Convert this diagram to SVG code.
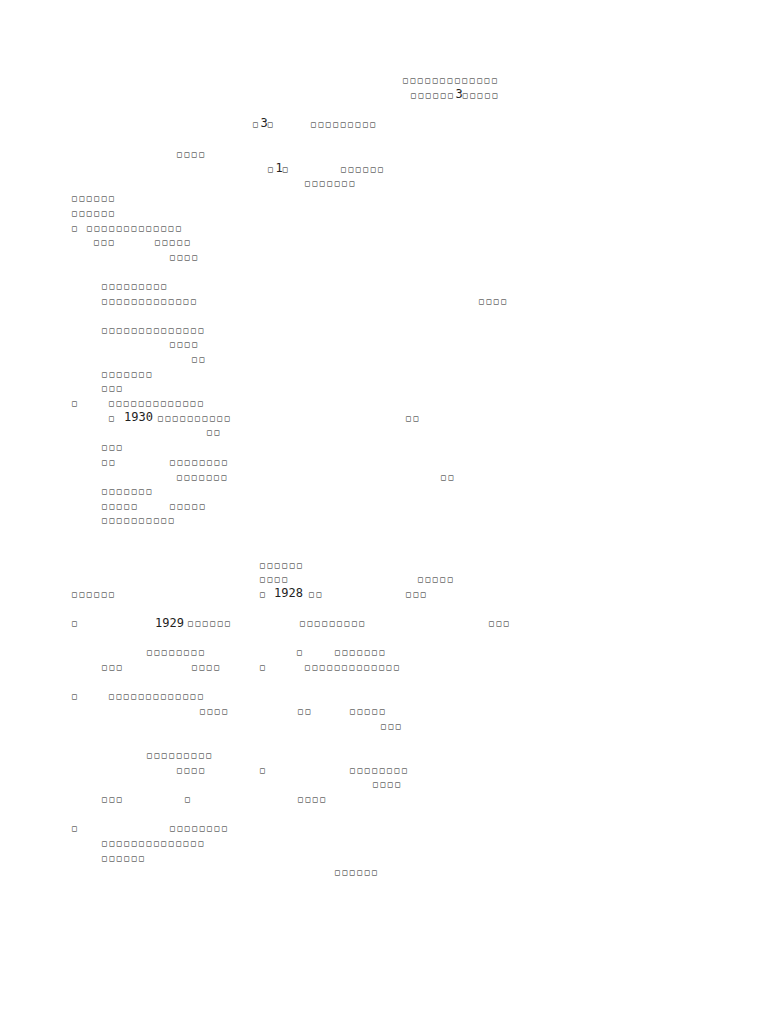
<svg xmlns="http://www.w3.org/2000/svg" width="768" height="1024" viewBox="0 0 768 1024">
<style>
text{font-family:"DejaVu Sans Mono",monospace;font-size:8px;letter-spacing:2.6px;fill:#222}
.n{font-size:12px;letter-spacing:0}
</style>
<rect width="768" height="1024" fill="#fff"/>
<g id="text">
<text x="403" y="83">□□□□□□□□□□□□□</text>
<text x="411" y="98">□□□□□□<tspan class="n">3</tspan>□□□□□</text>
<text x="253" y="127">□<tspan class="n">3</tspan>□</text><text x="311" y="127">□□□□□□□□□</text>
<text x="177" y="157">□□□□</text>
<text x="268" y="172">□<tspan class="n">1</tspan>□</text><text x="341" y="172">□□□□□□</text>
<text x="305" y="186">□□□□□□□</text>
<text x="72" y="201">□□□□□□</text>
<text x="72" y="216">□□□□□□</text>
<text x="72" y="231">□</text><text x="87" y="231">□□□□□□□□□□□□□</text>
<text x="94" y="245">□□□</text><text x="155" y="245">□□□□□</text>
<text x="170" y="260">□□□□</text>
<text x="102" y="289">□□□□□□□□□</text>
<text x="102" y="304">□□□□□□□□□□□□□</text><text x="479" y="304">□□□□</text>
<text x="102" y="333">□□□□□□□□□□□□□□</text>
<text x="170" y="347">□□□□</text>
<text x="192" y="362">□□</text>
<text x="102" y="377">□□□□□□□</text>
<text x="102" y="391">□□□</text>
<text x="72" y="406">□</text><text x="109" y="406">□□□□□□□□□□□□□</text>
<text x="109" y="421">□</text><text x="124" y="421" class="n">1930</text><text x="158" y="421">□□□□□□□□□□</text><text x="406" y="421">□□</text>
<text x="207" y="435">□□</text>
<text x="102" y="450">□□□</text>
<text x="102" y="465">□□</text><text x="170" y="465">□□□□□□□□</text>
<text x="177" y="480">□□□□□□□</text><text x="441" y="480">□□</text>
<text x="102" y="494">□□□□□□□</text>
<text x="102" y="509">□□□□□</text><text x="170" y="509">□□□□□</text>
<text x="102" y="523">□□□□□□□□□□</text>
<text x="260" y="568">□□□□□□</text>
<text x="260" y="582">□□□□</text><text x="418" y="582">□□□□□</text>
<text x="72" y="597">□□□□□□</text><text x="260" y="597">□</text><text x="274" y="597" class="n">1928</text><text x="309" y="597">□□</text><text x="406" y="597">□□□</text>
<text x="72" y="626">□</text><text x="155" y="627" class="n">1929</text><text x="188" y="626">□□□□□□</text><text x="300" y="626">□□□□□□□□□</text><text x="489" y="626">□□□</text>
<text x="147" y="655">□□□□□□□□</text><text x="297" y="655">□</text><text x="335" y="655">□□□□□□□</text>
<text x="102" y="670">□□□</text><text x="192" y="670">□□□□</text><text x="260" y="670">□</text><text x="305" y="670">□□□□□□□□□□□□□</text>
<text x="72" y="699">□</text><text x="109" y="699">□□□□□□□□□□□□□</text>
<text x="200" y="714">□□□□</text><text x="298" y="714">□□</text><text x="350" y="714">□□□□□</text>
<text x="381" y="729">□□□</text>
<text x="147" y="758">□□□□□□□□□</text>
<text x="177" y="773">□□□□</text><text x="260" y="773">□</text><text x="350" y="773">□□□□□□□□</text>
<text x="373" y="787">□□□□</text>
<text x="102" y="802">□□□</text><text x="185" y="802">□</text><text x="298" y="802">□□□□</text>
<text x="72" y="831">□</text><text x="170" y="831">□□□□□□□□</text>
<text x="102" y="846">□□□□□□□□□□□□□□</text>
<text x="102" y="861">□□□□□□</text>
<text x="335" y="875">□□□□□□</text>
</g>
<g id="connectors"/>
</svg>
